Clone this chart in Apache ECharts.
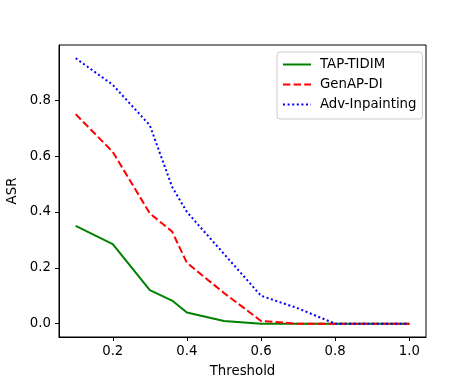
<!DOCTYPE html>
<html>
<head>
<meta charset="utf-8">
<script src="https://cdn.jsdelivr.net/npm/echarts@6/dist/echarts.min.js"></script>
<style>
html,body{margin:0;padding:0;background:#fff;}
#main{width:474px;height:379px;}
</style>
</head>
<body>
<div id="main"></div>
<script>
var thresholds = [0.1, 0.2, 0.3, 0.36, 0.4, 0.5, 0.6, 0.7, 0.8, 0.9, 1.0];
var tapTidim = [0.35, 0.285, 0.12, 0.083, 0.04, 0.01, 0.0, 0.0, 0.0, 0.0, 0.0];
var genapDi = [0.75, 0.615, 0.395, 0.33, 0.218, 0.11, 0.01, 0.0, 0.0, 0.0, 0.0];
var advInpainting = [0.95, 0.855, 0.71, 0.49, 0.4, 0.25, 0.1, 0.055, 0.0, 0.0, 0.0];
var xTicks = [0.2, 0.4, 0.6, 0.8, 1.0];
var yTicks = [0.0, 0.2, 0.4, 0.6, 0.8];
var seriesNames = ['TAP-TIDIM', 'GenAP-DI', 'Adv-Inpainting'];

function pairs(ys) { return thresholds.map(function (x, i) { return [x, ys[i]]; }); }

var font = 'DejaVu Sans';
var chart = echarts.init(document.getElementById('main'));
chart.setOption({
  animation: false,
  backgroundColor: '#ffffff',
  grid: { left: 59, right: 48, top: 45, bottom: 42, outerBoundsMode: 'none', containLabel: false, show: true, borderColor: '#000', borderWidth: 1, backgroundColor: 'transparent' },
  xAxis: {
    type: 'value', min: 0.055, max: 1.045,
    name: 'Threshold', nameLocation: 'middle', nameGap: 28,
    nameTextStyle: { fontFamily: font, fontSize: 13.3, color: '#000' },
    axisLine: { show: true, onZero: false, lineStyle: { color: '#000', width: 1 } },
    axisTick: { show: true, inside: false, length: 4, lineStyle: { color: '#000' }, customValues: xTicks },
    axisLabel: { margin: 8, fontFamily: font, fontSize: 13.3, color: '#000', customValues: xTicks, formatter: function (v) { return v.toFixed(1); } },
    splitLine: { show: false }
  },
  yAxis: {
    type: 'value', min: -0.0475, max: 0.9975,
    name: 'ASR', nameLocation: 'middle', nameGap: 35,
    nameTextStyle: { fontFamily: font, fontSize: 13.3, color: '#000' },
    axisLine: { show: true, onZero: false, lineStyle: { color: '#000', width: 1 } },
    axisTick: { show: true, inside: false, length: 4, lineStyle: { color: '#000' }, customValues: yTicks },
    axisLabel: { margin: 8, fontFamily: font, fontSize: 13.3, color: '#000', customValues: yTicks, formatter: function (v) { return v.toFixed(1); } },
    splitLine: { show: false }
  },
  legend: {
    orient: 'vertical', left: 277, top: 52,
    data: seriesNames,
    itemWidth: 28, itemHeight: 12, itemGap: 7,
    padding: [6, 6, 8, 5],
    borderColor: '#cccccc', borderWidth: 1, borderRadius: 3,
    backgroundColor: 'rgba(255,255,255,0.8)',
    itemStyle: { opacity: 0 },
    textStyle: { fontFamily: font, fontSize: 13.3, color: '#000', padding: [0, 0, 0, 4] }
  },
  series: [
    { name: seriesNames[0], type: 'line', data: pairs(tapTidim), symbol: 'none', z: 3,
      lineStyle: { color: '#008000', width: 2, type: 'solid' }, itemStyle: { color: '#008000' } },
    { name: seriesNames[1], type: 'line', data: pairs(genapDi), symbol: 'none', z: 4,
      lineStyle: { color: '#ff0000', width: 2, type: [7.4, 3.2] }, itemStyle: { color: '#ff0000' } },
    { name: seriesNames[2], type: 'line', data: pairs(advInpainting), symbol: 'none', z: 5,
      lineStyle: { color: '#0000ff', width: 2, type: [2, 2.6] }, itemStyle: { color: '#0000ff' } }
  ]
});
</script>
</body>
</html>
